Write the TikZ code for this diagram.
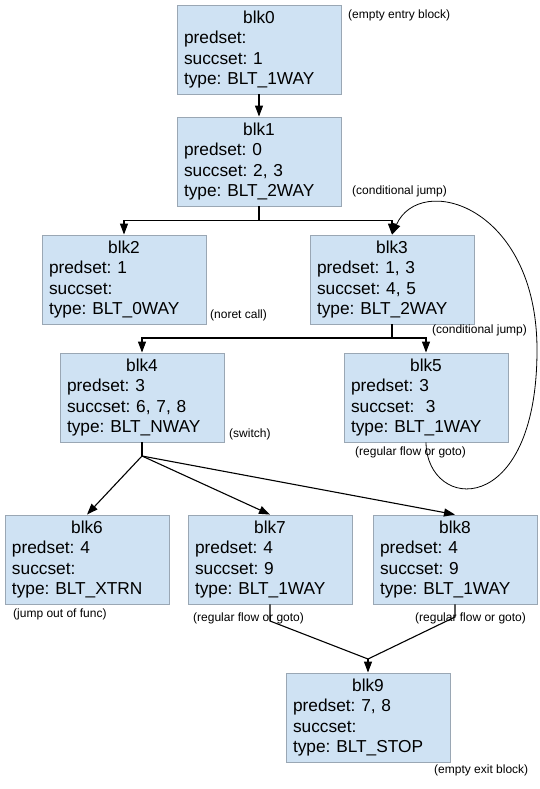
\documentclass[tikz,border=0pt]{standalone}
\usepackage{fontspec}
\setmainfont{Liberation Sans}
\usetikzlibrary{arrows.meta}
\definecolor{boxfill}{HTML}{CFE2F3}
\definecolor{boxline}{HTML}{9AA7B4}
\begin{document}
\frenchspacing
\begin{tikzpicture}[x=1pt,y=-1pt,
 blkbox/.style={draw=boxline, line width=0.9pt, fill=boxfill, minimum width=164pt, minimum height=89pt, text width=150pt, inner xsep=7pt, inner ysep=0pt, align=left, font=\fontsize{17.3}{20.3}\selectfont\frenchspacing},
 note/.style={anchor=west, inner sep=0pt, font=\fontsize{12}{14}\selectfont\frenchspacing},
 conn/.style={line width=1.1pt, draw=black},
 arr/.style={conn, -{Triangle[length=11pt,width=8pt]}},
 thinarr/.style={line width=0.8pt, draw=black, -{Triangle[length=11pt,width=8pt]}}
]
\fill[white] (0,0) rectangle (540,789);
\useasboundingbox (0,0) rectangle (540,789);
\node[blkbox] (b0) at (259,49.5) {\makebox[150pt]{blk0}\\predset:\\succset: 1\\type: BLT\_1WAY};
\node[blkbox] (b1) at (259,161.5) {\makebox[150pt]{blk1}\\predset: 0\\succset: 2, 3\\type: BLT\_2WAY};
\node[blkbox] (b2) at (124,279.5) {\makebox[150pt]{blk2}\\predset: 1\\succset:\\type: BLT\_0WAY};
\node[blkbox] (b3) at (392,279.5) {\makebox[150pt]{blk3}\\predset: 1, 3\\succset: 4, 5\\type: BLT\_2WAY};
\node[blkbox] (b4) at (142,397.5) {\makebox[150pt]{blk4}\\predset: 3\\succset: 6, 7, 8\\type: BLT\_NWAY};
\node[blkbox] (b5) at (426,397.5) {\makebox[150pt]{blk5}\\predset: 3\\succset:\ \ 3\\type: BLT\_1WAY};
\node[blkbox] (b6) at (87,559.5) {\makebox[150pt]{blk6}\\predset: 4\\succset:\\type: BLT\_XTRN};
\node[blkbox] (b7) at (270,559.5) {\makebox[150pt]{blk7}\\predset: 4\\succset: 9\\type: BLT\_1WAY};
\node[blkbox] (b8) at (455,559.5) {\makebox[150pt]{blk8}\\predset: 4\\succset: 9\\type: BLT\_1WAY};
\node[blkbox] (b9) at (368,717.5) {\makebox[150pt]{blk9}\\predset: 7, 8\\succset:\\type: BLT\_STOP};

\node[note] (n0) at (348,15) {(empty entry block)};
\node[note] (n1) at (352,191) {(conditional jump)};
\node[note] (n2) at (210,315) {(noret call)};
\node[note] (n3) at (432,330) {(conditional jump)};
\node[note] (n4) at (229,434) {(switch)};
\node[note] (n5) at (355,452) {(regular flow or goto)};
\node[note] (n6) at (13,614) {(jump out of func)};
\node[note] (n7) at (193,618) {(regular flow or goto)};
\node[note] (n8) at (415,618) {(regular flow or goto)};
\node[note] (n9) at (434,770) {(empty exit block)};

\coordinate (j1) at (259,220.5);
\coordinate (j3) at (392,338);
\coordinate (j4) at (142,456);
\coordinate (j9) at (368,659);
\coordinate (k7) at (270,621);
\coordinate (k8) at (455,617);
\coordinate (loopR) at (537,350);

\draw[arr] (b0.south) -- (b1.north);
\draw[conn] (b1.south) -- (j1);
\draw[arr] (j1) -| (b2.north);
\draw[arr] (j1) -| (b3.north);
\draw[conn] (b3.south) -- (j3);
\draw[arr] (j3) -| (b4.north);
\draw[arr] (j3) -| (b5.north);
\draw[conn] (b4.south) -- (j4);
\draw[arr] (j4) -- (b6.north);
\draw[arr] (j4) -- (b7.north);
\draw[arr] (j4) -- (b8.north);
\draw[conn] (b7.south) -- (k7) -- (j9);
\draw[conn] (b8.south) -- (k8) -- (j9);
\draw[arr] (j9) -- (b9.north);
\draw[thinarr] (b5.south) .. controls (427,512) and (537,520) .. (loopR) .. controls (537,205) and (420,172) .. (b3.north);
\end{tikzpicture}
\end{document}
